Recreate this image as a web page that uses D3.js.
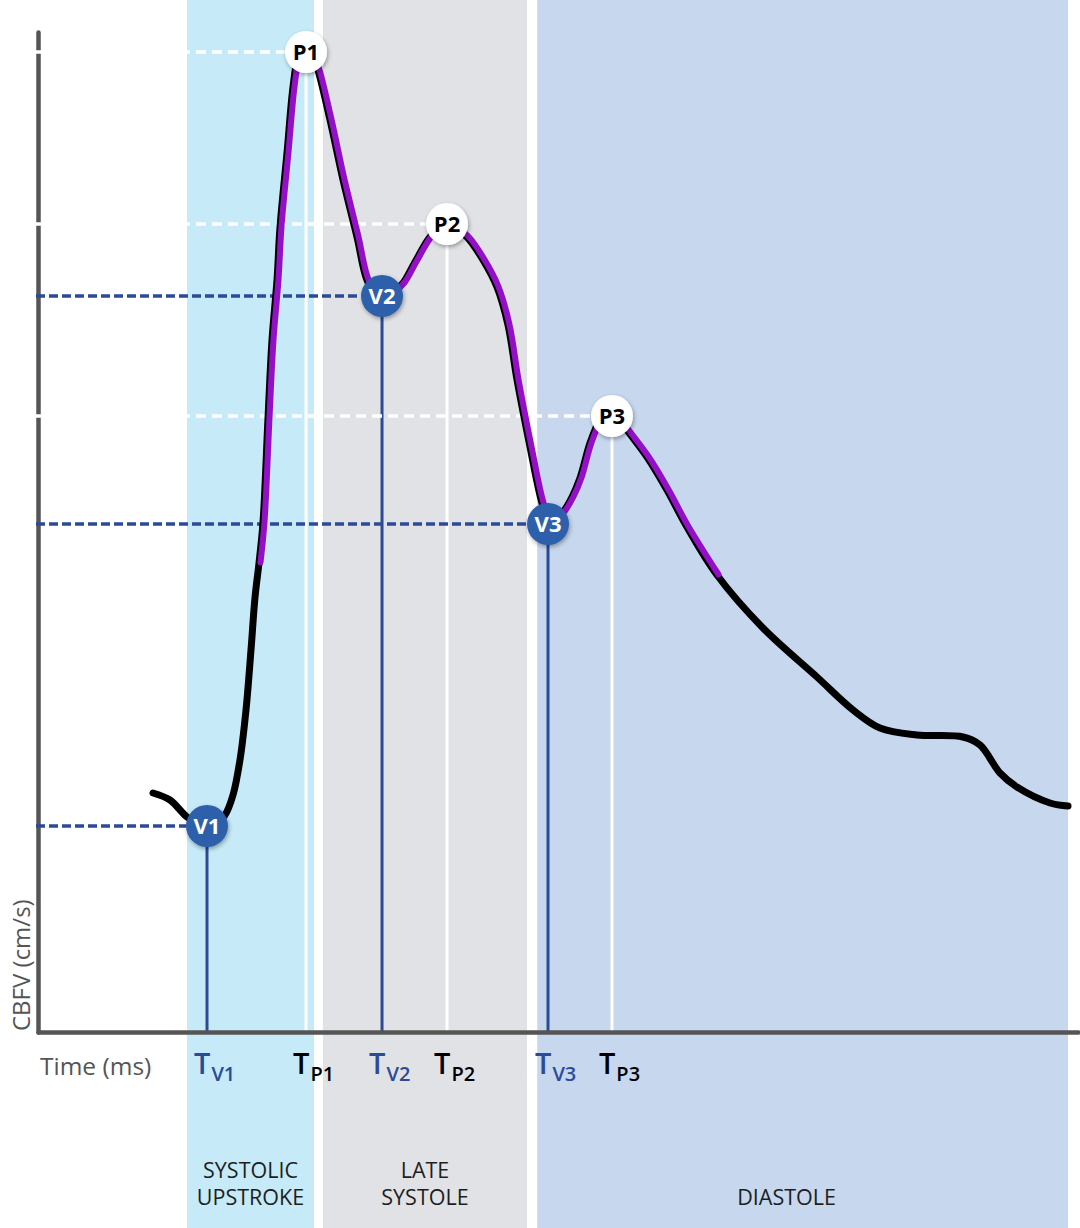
<!DOCTYPE html>
<html>
<head>
<meta charset="utf-8">
<script src="https://cdn.jsdelivr.net/npm/d3@7.9.0/dist/d3.min.js"></script>
<style>
  body { margin: 0; background: #fff; }
  svg { display: block; font-family: "Open Sans", sans-serif; }
</style>
</head>
<body>
<svg id="chart"></svg>
<script>
const width = 1080, height = 1228;

// waveform samples: time (ms) and CBFV (cm/s)
const traceTime = [110.6, 126.9, 143.3, 158.7, 170.2, 179.8, 187.5, 194.2, 200.0, 204.8,
  208.7, 212.5, 216.3, 221.2, 225.0, 229.8, 232.7, 239.4, 245.2, 250.0,
  255.8, 262.5, 269.2, 280.8, 293.3, 306.7, 316.3, 326.9, 340.4, 351.0,
  362.5, 376.9, 389.4, 401.0, 412.5, 427.9, 441.3, 451.9, 460.6, 473.1,
  484.6, 492.3, 504.8, 513.5, 521.2, 530.8, 540.4, 549.0, 559.6, 566.3,
  585.6, 604.8, 624.0, 652.9, 697.1, 749.0, 783.7, 809.6, 845.2, 889.4,
  905.8, 925.0, 941.3, 973.1, 990.4];
const traceCbfv = [23.9, 23.2, 21.5, 20.6, 20.8, 21.7, 23.7, 27.2, 32.2, 38.2,
  43.5, 46.9, 50.9, 61.5, 69.2, 75.2, 80.5, 87.9, 94.5, 97.5,
  98.6, 98.2, 96.2, 91.2, 85.2, 79.5, 75.2, 73.4, 73.9, 74.9,
  77.0, 79.5, 80.7, 80.4, 79.5, 77.2, 74.5, 70.7, 65.2, 58.5,
  52.9, 50.8, 52.0, 53.5, 55.4, 58.9, 61.2, 62.0, 61.2, 60.2,
  57.5, 54.2, 50.5, 45.7, 40.4, 35.5, 32.2, 30.4, 29.7, 29.5,
  28.7, 25.9, 24.5, 22.9, 22.6];

// purple highlighted stretch of the waveform (ms)
const highlightFrom = 212.5, highlightTo = 652.9;

// peaks and valleys
const markerNames = ["V1", "P1", "V2", "P2", "V3", "P3"];
const markerTime = [162.5, 257.7, 330.8, 393.3, 490.4, 551.9];
const markerCbfv = [20.6, 98.0, 73.6, 80.8, 50.8, 61.6];

// cardiac phases (ms)
const phaseLabels = [["SYSTOLIC", "UPSTROKE"], ["LATE", "SYSTOLE"], ["DIASTOLE"]];
const phaseStart = [143.3, 274.0, 480.0];
const phaseEnd = [265.4, 470.2, 990.4];
const phaseColors = ["#c6eaf8", "#e1e2e6", "#c6d7ee"];

const blue = "#2b4b96", circleBlue = "#2f5eaa", purple = "#9310c7";

const x = d3.scaleLinear().domain([0, 1000]).range([38, 1078]);
const y = d3.scaleLinear().domain([0, 100]).range([1032, 32]);

const svg = d3.select("#chart").attr("width", width).attr("height", height);

const defs = svg.append("defs");
defs.append("filter").attr("id", "shadow")
  .attr("x", "-50%").attr("y", "-50%").attr("width", "200%").attr("height", "200%")
  .append("feDropShadow")
  .attr("dx", 1).attr("dy", 2).attr("stdDeviation", 2)
  .attr("flood-color", "#000").attr("flood-opacity", 0.35);

// phase bands
svg.append("g").selectAll("rect")
  .data(phaseStart)
  .join("rect")
  .attr("x", (d) => x(d))
  .attr("y", 0)
  .attr("width", (d, i) => x(phaseEnd[i]) - x(d))
  .attr("height", height)
  .attr("fill", (d, i) => phaseColors[i]);

// phase labels, one text per line
phaseLabels.forEach((lines, i) => {
  const cx = (x(phaseStart[i]) + x(phaseEnd[i])) / 2 - (i === 2 ? 16 : 0);
  lines.forEach((line, j) => {
    svg.append("text")
      .attr("x", cx)
      .attr("y", 1205 - (lines.length - 1 - j) * 27)
      .attr("text-anchor", "middle")
      .attr("font-size", 21.5)
      .attr("fill", "#1e1e1e")
      .text(line);
  });
});

const markers = markerNames.map((name, i) => ({
  name, t: markerTime[i], v: markerCbfv[i], valley: name[0] === "V"
}));
const r = 21;

// drop lines from markers to the time axis
svg.append("g").selectAll("line")
  .data(markers)
  .join("line")
  .attr("x1", (d) => x(d.t)).attr("x2", (d) => x(d.t))
  .attr("y1", (d) => y(d.v)).attr("y2", y(0))
  .attr("stroke", (d) => d.valley ? blue : "#fff")
  .attr("stroke-width", 3);

// axes
const axisY = svg.append("g")
  .attr("transform", `translate(${x(0)},0)`)
  .call(d3.axisLeft(y).tickValues([]).tickSizeOuter(0));
const axisX = svg.append("g")
  .attr("transform", `translate(0,${y(0)})`)
  .call(d3.axisBottom(x).tickValues([]).tickSizeOuter(0));
[axisY, axisX].forEach((a) => a.select(".domain")
  .attr("stroke", "#555").attr("stroke-width", 4.5).attr("stroke-linecap", "round"));

// dashed level lines from the CBFV axis
svg.append("g").selectAll("line")
  .data(markers)
  .join("line")
  .attr("x1", x(0) - 2)
  .attr("x2", (d) => x(d.t) - r)
  .attr("y1", (d) => y(d.v)).attr("y2", (d) => y(d.v))
  .attr("stroke", (d) => d.valley ? blue : "#fff")
  .attr("stroke-width", 3.4)
  .attr("stroke-dasharray", (d) => d.valley ? "9 4" : "10 6");

// waveform
const trace = traceTime.map((t, i) => ({ t, v: traceCbfv[i] }));
const line = d3.line()
  .x((d) => x(d.t))
  .y((d) => y(d.v))
  .curve(d3.curveCatmullRom.alpha(0.5));

svg.append("path")
  .attr("d", line(trace))
  .attr("fill", "none")
  .attr("stroke", "#000")
  .attr("stroke-width", 7)
  .attr("stroke-linecap", "round")
  .attr("stroke-linejoin", "round");

svg.append("path")
  .attr("d", line(trace.filter((d) => d.t >= highlightFrom && d.t <= highlightTo)))
  .attr("transform", "translate(1.5,-0.5)")
  .attr("fill", "none")
  .attr("stroke", purple)
  .attr("stroke-width", 6)
  .attr("stroke-linecap", "round");

// marker badges
const badge = svg.append("g").selectAll("g")
  .data(markers)
  .join("g")
  .attr("transform", (d) => `translate(${x(d.t)},${y(d.v)})`);

badge.append("circle")
  .attr("r", r)
  .attr("fill", (d) => d.valley ? circleBlue : "#fff")
  .attr("filter", "url(#shadow)");

badge.append("text")
  .attr("text-anchor", "middle")
  .attr("dy", "0.36em")
  .attr("font-size", 22)
  .attr("font-weight", 700)
  .attr("fill", (d) => d.valley ? "#fff" : "#000")
  .text((d) => d.name);

// time labels T_xx under the axis
const tLabel = svg.append("g").selectAll("text")
  .data(markers)
  .join("text")
  .attr("x", (d) => x(d.t) - 13)
  .attr("y", 1074)
  .attr("font-weight", 600)
  .attr("fill", (d) => d.valley ? blue : "#000");
tLabel.append("tspan").attr("font-size", 29).text("T");
tLabel.append("tspan").attr("font-size", 20).attr("dx", 1).attr("dy", 7).text((d) => d.name);

// axis titles
svg.append("text")
  .attr("x", 40).attr("y", 1075)
  .attr("font-size", 24.5)
  .attr("fill", "#555")
  .text("Time (ms)");

svg.append("text")
  .attr("transform", "translate(30,1031) rotate(-90)")
  .attr("font-size", 24)
  .attr("fill", "#555")
  .text("CBFV (cm/s)");
</script>
</body>
</html>
